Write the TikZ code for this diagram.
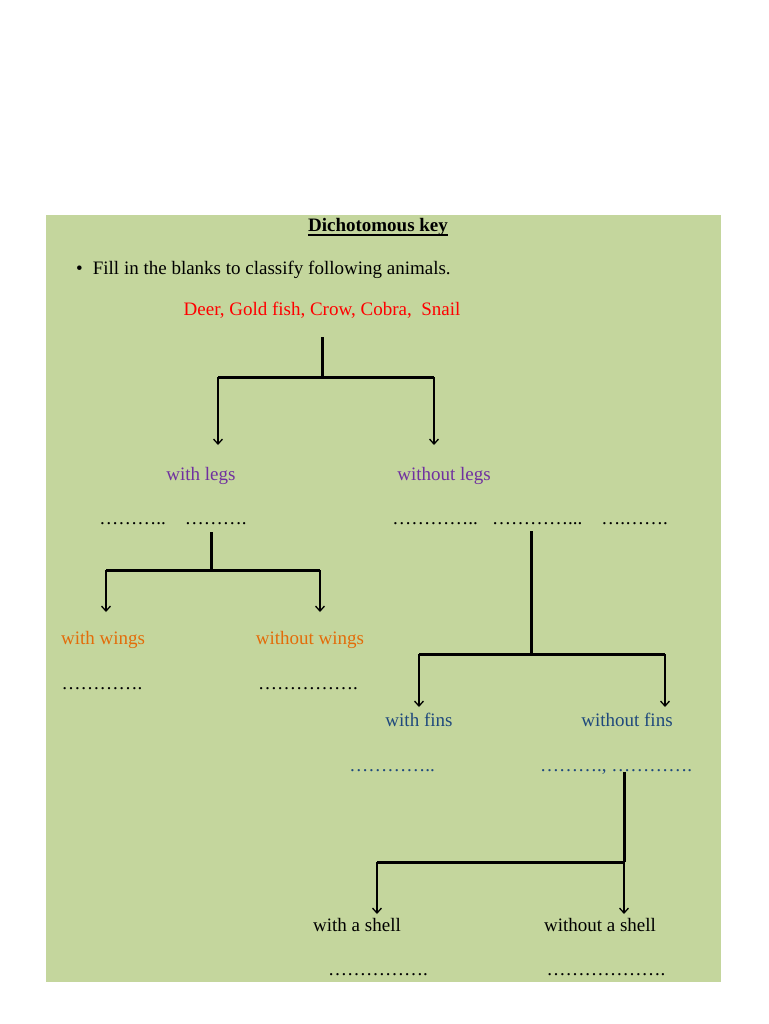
\documentclass[tikz,border=0pt]{standalone}
\usepackage{fontspec}
\setmainfont{Liberation Serif}
\usetikzlibrary{arrows.meta}
\definecolor{bg}{HTML}{C4D69D}
\definecolor{purp}{HTML}{7030A0}
\definecolor{oran}{HTML}{E36C09}
\definecolor{dblue}{HTML}{1F497D}
\begin{document}
\begin{tikzpicture}[x=1pt,y=-1pt,
  lbl/.style={inner sep=0pt,anchor=base,font=\fontsize{19}{21}\selectfont},
  thick line/.style={line width=3pt},
  arr/.style={line width=1.3pt,-{Straight Barb[length=5pt,width=9pt]}}]
\useasboundingbox (0,0) rectangle (768,1024);
\fill[bg] (46,215) rectangle (721,982);
\node[lbl,font=\fontsize{19}{21}\selectfont\bfseries] (title) at (378,232) {Dichotomous key};
\draw[line width=1.2pt] ([yshift=-3pt]title.base west) -- ([yshift=-3pt]title.base east);
\node[lbl,anchor=base west] (inst) at (76,274) {\textbullet\hspace{10pt}Fill in the blanks to classify following animals.};
\node[lbl,text=red] (list) at (322,315) {Deer, Gold fish, Crow, Cobra,\ \ Snail};
% level 1
\coordinate (a0) at (322,337); \coordinate (a1) at (322,377);
\coordinate (hl) at (218,377); \coordinate (hr) at (434,377);
\coordinate (tl) at (218,445); \coordinate (tr) at (434,445);
\draw[thick line] (a0) -- (a1);
\draw[thick line] (hl) -- (hr);
\draw[arr] (hl) -- (tl); \draw[arr] (hr) -- (tr);
\node[lbl,text=purp] (legs) at (201,480) {with legs};
\node[lbl,text=purp] (nolegs) at (444,480) {without legs};
\node[lbl] (d1) at (173,524) {………..\ \ \ \ ……….};
\node[lbl] (d2) at (530,524) {…………..\ \ \ …………...\ \ \ \ ….…….};
% legs branch
\coordinate (b0) at (211,532); \coordinate (b1) at (211,570);
\coordinate (bl) at (106,570); \coordinate (br) at (320,570);
\coordinate (btl) at (106,612); \coordinate (btr) at (320,612);
\draw[thick line] (b0) -- (b1);
\draw[thick line] (bl) -- (br);
\draw[arr] (bl) -- (btl); \draw[arr] (br) -- (btr);
\node[lbl,text=oran] (wings) at (103,644) {with wings};
\node[lbl,text=oran] (nowings) at (310,644) {without wings};
\node[lbl] (d3) at (102,689) {………….};
\node[lbl] (d4) at (308,689) {…………….};
% no legs branch
\coordinate (c0) at (531,531); \coordinate (c1) at (531,654);
\coordinate (cl) at (419,654); \coordinate (cr) at (665,654);
\coordinate (ctl) at (419,707); \coordinate (ctr) at (665,707);
\draw[thick line] (c0) -- (c1);
\draw[thick line] (cl) -- (cr);
\draw[arr] (cl) -- (ctl); \draw[arr] (cr) -- (ctr);
\node[lbl,text=dblue] (fins) at (419,726) {with fins};
\node[lbl,text=dblue] (nofins) at (627,726) {without fins};
\node[lbl,text=dblue] (d5) at (392,771) {…………..};
\node[lbl,text=dblue] (d6) at (616,771) {………., ………….};
% fins branch
\coordinate (e0) at (624,772); \coordinate (e1) at (624,862);
\coordinate (el) at (377,862);
\coordinate (etl) at (377,914); \coordinate (etr) at (624,914);
\draw[thick line] (e0) -- (e1);
\draw[thick line] (el) -- (e1);
\draw[arr] (el) -- (etl); \draw[arr] (e1) -- (etr);
\node[lbl] (shell) at (357,931) {with a shell};
\node[lbl] (noshell) at (600,931) {without a shell};
\node[lbl] (d7) at (378,975) {…………….};
\node[lbl] (d8) at (606,975) {……………….};
\end{tikzpicture}
\end{document}
